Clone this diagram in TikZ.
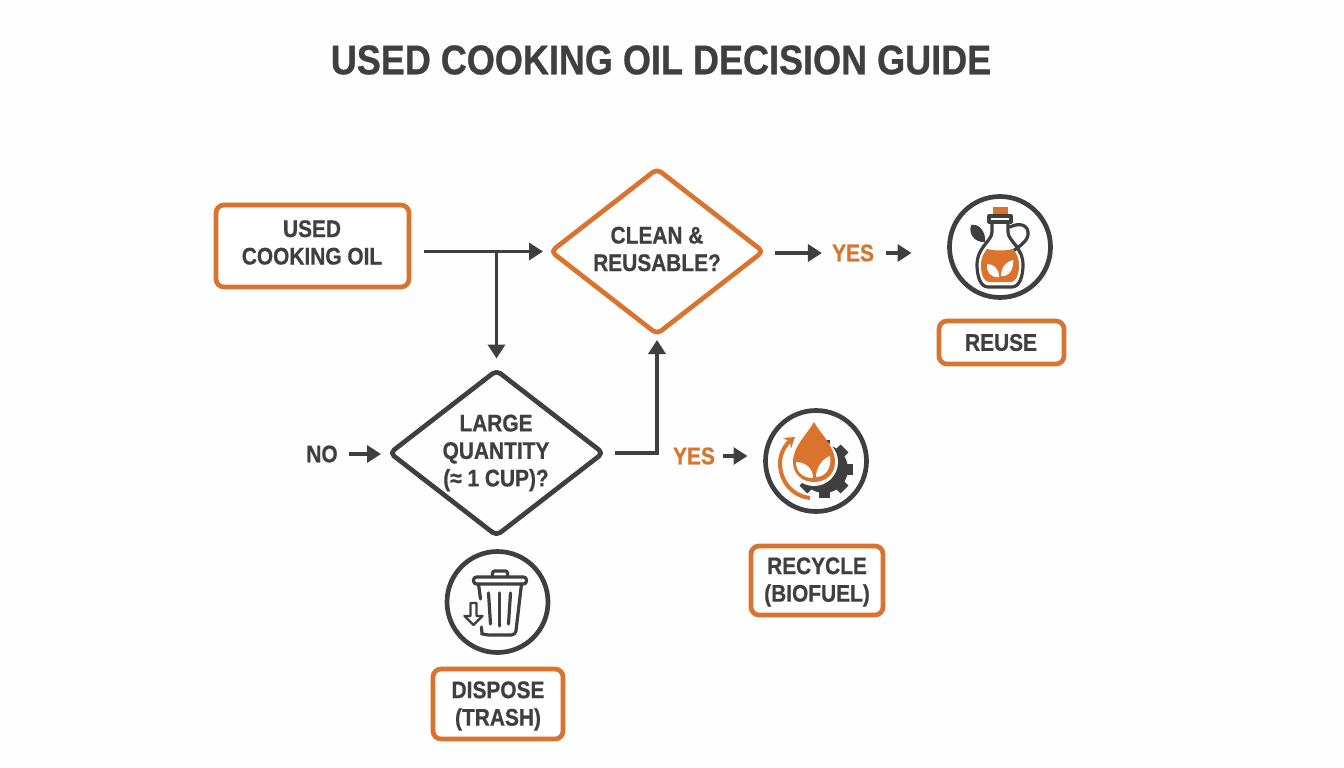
\documentclass[tikz,border=0pt]{standalone}
\usepackage{fontspec}
\setmainfont{Liberation Sans}[FakeStretch=0.87,BoldFeatures={FakeBold=0.7}]
\usetikzlibrary{arrows.meta,shapes.geometric}
\definecolor{oilorange}{HTML}{D9732E}
\definecolor{inkdark}{HTML}{3F3F3F}
\tikzset{
  flow/.style={draw=inkdark,line width=3.5pt,-{Triangle[length=14pt,width=17pt]}},
  endbox/.style={draw=oilorange,line width=4.7pt,rounded corners=8pt,fill=white,outer sep=0pt},
  decision/.style={diamond,line width=4.7pt,line join=round,rounded corners=5pt,inner sep=0pt,outer sep=0pt,
    minimum width=212pt,minimum height=165pt,aspect=1.27},
  boxtext/.style={align=center,inner sep=0pt,text=inkdark,font=\fontsize{24}{27.5}\selectfont\bfseries},
  yeslabel/.style={inner sep=0pt,text=oilorange,font=\fontsize{24}{28}\selectfont\bfseries},
  iconring/.style={circle,draw=inkdark,line width=4.7pt,minimum size=101pt,inner sep=0pt,outer sep=0pt},
  iconline/.style={draw=inkdark,line width=3.2pt,line join=round,line cap=round}
}
\begin{document}
\begin{tikzpicture}[x=1pt,y=-1pt]
  \useasboundingbox[fill=white!99.5!black] (0,0) rectangle (1344,768);
  \node (title) [inner sep=0pt,text=inkdark,font=\fontsize{41.4}{50}\selectfont\bfseries] at (661,60) {USED COOKING OIL DECISION GUIDE};

  % flow boxes
  \node (used) [endbox,minimum width=193pt,minimum height=82pt] at (312.5,246) {};
  \node (usedtext) [boxtext] at (312,242.5) {USED\\COOKING OIL};
  \node (clean) [decision,draw=oilorange] at (657,251.5) {};
  \node (cleantext) [boxtext] at (657,249) {CLEAN \&\\REUSABLE?};
  \node (large) [decision,draw=inkdark,minimum width=213pt] at (496.5,453) {};
  \node (largetext) [boxtext] at (496,453) {LARGE\\QUANTITY\\(≈ 1 CUP)?};
  \node (no) [boxtext] at (322,454) {NO};
  \node (yestop) [yeslabel] at (853,253) {YES};
  \node (yeslow) [yeslabel] at (694,456) {YES};
  \node (reusering) [iconring] at (1000,247) {};
  \node (recyclering) [iconring] at (816,461) {};
  \node (trashring) [iconring] at (497.5,602) {};
  \node (reuse) [endbox,minimum width=125pt,minimum height=43pt] at (1001.5,342.5) {};
  \node (reusetext) [boxtext] at (1001,342.5) {REUSE};
  \node (recycle) [endbox,minimum width=132pt,minimum height=69pt] at (817,580.5) {};
  \node (recycletext) [boxtext] at (817,582) {RECYCLE\\(BIOFUEL)};
  \node (dispose) [endbox,minimum width=130pt,minimum height=70pt] at (498,704) {};
  \node (disposetext) [boxtext] at (498,706) {DISPOSE\\(TRASH)};

  % connectors
  \draw[flow,shorten <=15pt,shorten >=8pt] (used.east |- clean.west) -- (clean.west);
  \draw[flow,shorten >=12pt] (large.north |- clean.west) -- (large.north);
  \draw[flow,shorten <=11pt,shorten >=9pt] (no.east) -- (no.east -| large.west);
  \draw[flow,shorten <=12pt,shorten >=6pt] (large.east) -- (large.east -| clean.south) -- (clean.south);
  \draw[flow,shorten <=12pt,shorten >=10pt] (yestop.west -| clean.east) -- (yestop.west);
  \draw[flow,shorten <=12pt,shorten >=38pt] (yestop.east) -- (yestop.east -| reusering.west);
  \draw[flow,shorten <=8pt,shorten >=18pt] (yeslow.east) -- (yeslow.east -| recyclering.west);

  % oil jug
  \begin{scope}[shift={(reusering)}]
    \fill[oilorange] (-7.5,-40) rectangle (7.5,-32);
    \draw[iconline] (-11,-31) rectangle (11,-25);
    \draw[iconline] (-8,-25) -- (-8,-15) .. controls (-8,-6) and (-23,0) .. (-23,18) .. controls (-23,28) and (-20,40) .. (-12,40)
      -- (12,40) .. controls (20,40) and (23,28) .. (23,18) .. controls (23,0) and (8,-6) .. (8,-15) -- (8,-25);
    \draw[iconline] (10,-20) .. controls (20,-25) and (29,-22) .. (28,-12) .. controls (27,-5) and (18,0) .. (12,5);
    \fill[oilorange] (-19,18) .. controls (-19,10) and (-16,6) .. (-13,2) .. controls (-5,4) and (5,4) .. (13,2)
      .. controls (16,6) and (19,10) .. (19,18) .. controls (19,26) and (17,35) .. (10,35) -- (-10,35) .. controls (-17,35) and (-19,26) .. (-19,18) -- cycle;
    \fill[white] (-1,30) .. controls (-10,31) and (-14,24) .. (-13,17) .. controls (-7,17) and (-1,21) .. (-1,30) -- cycle;
    \fill[white] (1,29) .. controls (1,20) and (7,14) .. (13,13) .. controls (14,22) and (9,30) .. (1,29) -- cycle;
    \fill[inkdark] (-29,-22) .. controls (-20,-24) and (-14,-14) .. (-15,-5) .. controls (-24,-4) and (-32,-12) .. (-29,-22) -- cycle;
  \end{scope}

  % drop and gear
  \begin{scope}[shift={(recyclering)}]
    \foreach \a in {0,45,...,315}
      \fill[inkdark,shift={(8,8)},rotate=\a] (-5.5,-29) rectangle (5.5,0);
    \fill[inkdark] (8,8) circle [radius=24pt];
    \fill[white] (-2,1) circle [radius=24pt];
    \fill[oilorange] (-2,-39) .. controls (-7,-29) and (-23,-15) .. (-23,1) .. controls (-23,13) and (-14,21) .. (-2,21)
      .. controls (10,21) and (19,13) .. (19,1) .. controls (19,-15) and (3,-29) .. (-2,-39) -- cycle;
    \fill[white] (-3,17) .. controls (-13,17) and (-20,11) .. (-20,1) .. controls (-11,1) and (-3,7) .. (-3,17) -- cycle;
    \fill[white] (0,16) .. controls (0,5) and (8,-3) .. (14,-5) .. controls (16,6) and (10,16) .. (0,16) -- cycle;
    \draw[draw=oilorange,line width=4pt,-{Stealth[length=10pt,width=13pt]}] (-6,37) .. controls (-24,35) and (-36,20) .. (-36,2) .. controls (-36,-8) and (-30,-17) .. (-21,-24);
  \end{scope}

  % trash can
  \begin{scope}[shift={(trashring)}]
    \draw[iconline,rounded corners=2pt] (-5,-25) -- (-5,-31) -- (10,-31) -- (10,-25);
    \draw[iconline,rounded corners=3pt] (-24,-25) rectangle (29,-18);
    \draw[iconline] (-19,-18) -- (-17,-3);
    \draw[iconline,rounded corners=4pt] (24,-18) -- (18,33) -- (-12,33) .. controls (-15,32) and (-16,29) .. (-16,25);
    \draw[iconline] (-9,-9) -- (-7,22);
    \draw[iconline] (2,-9) -- (2,24);
    \draw[iconline] (13,-9) -- (11,22);
    \draw[draw=inkdark,line width=2.4pt,line join=round] (-27,1) -- (-21,1) -- (-21,14) -- (-15,14) -- (-24,23) -- (-33,14) -- (-27,14) -- cycle;
  \end{scope}
\end{tikzpicture}
\end{document}
